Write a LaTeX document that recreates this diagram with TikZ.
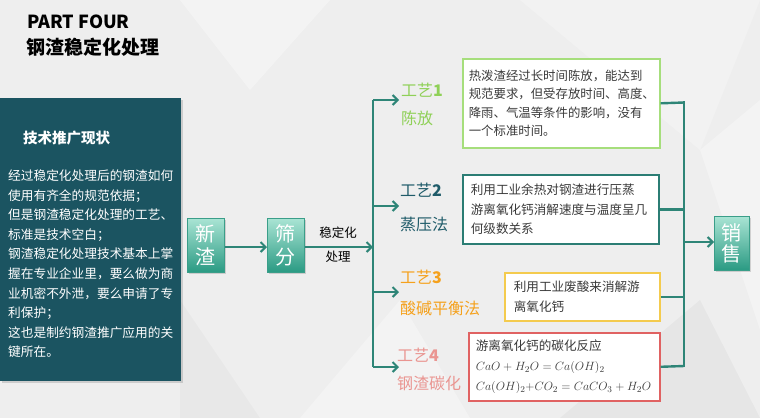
\documentclass[tikz,border=0pt]{standalone}
\usepackage{fontspec}
\setmainfont{Noto Sans CJK SC}
\usetikzlibrary{arrows.meta,shadows}
\definecolor{bgc}{HTML}{EEEEEE}
\definecolor{panelc}{HTML}{1B5461}
\definecolor{linec}{HTML}{2E8577}
\definecolor{gtop}{HTML}{A9E4D4}
\definecolor{gbot}{HTML}{2A9A83}
\definecolor{gbrd}{HTML}{3A9E89}
\definecolor{c1}{HTML}{8FD057}
\definecolor{c2}{HTML}{1F5B69}
\definecolor{c3}{HTML}{F5A11C}
\definecolor{c4}{HTML}{EA9591}
\definecolor{b1}{HTML}{A6DE7C}
\definecolor{b2}{HTML}{2B7D74}
\definecolor{b3}{HTML}{F4CB4E}
\definecolor{b4}{HTML}{E06262}
\definecolor{txt}{HTML}{3A3A3A}
\newcommand{\fsz}[2]{\fontsize{#1}{#2}\selectfont}
\begin{document}
\begin{tikzpicture}[x=1pt,y=-1pt,
  conn/.style={draw=linec, line width=2.4pt},
  arr/.style={conn, -{Straight Barb[length=5pt,width=10pt,line width=2pt]}},
  gbox/.style={shade, top color=gtop, bottom color=gbot, draw=gbrd, line width=0.6pt,
     inner sep=0pt, text=white, align=center,
     drop shadow={shadow xshift=1.2pt, shadow yshift=-1.2pt, opacity=0.3}},
  tbox/.style={draw, fill=white, line width=1.6pt, inner ysep=0pt, align=left,
     text=txt, anchor=north west},
  lbl/.style={anchor=west, inner sep=0pt, align=left}]
\useasboundingbox (0,0) rectangle (760,418);
\fill[bgc] (0,0) rectangle (760,418);
% faint low-poly background
\fill[white, opacity=0.35] (180,0) -- (330,0) -- (250,90) -- cycle;
\fill[white, opacity=0.25] (520,0) -- (760,0) -- (700,150) -- cycle;
\fill[black, opacity=0.03] (560,418) -- (700,300) -- (760,418) -- cycle;
\fill[white, opacity=0.3] (300,418) -- (400,300) -- (470,418) -- cycle;
\fill[black, opacity=0.025] (180,300) -- (260,418) -- (180,418) -- cycle;
\fill[white, opacity=0.3] (700,150) -- (760,100) -- (760,330) -- cycle;

% title
\node[anchor=west, inner sep=0pt, font=\bfseries\fsz{18}{18}] (pf) at (27,22) {PART FOUR};
\node[anchor=west, inner sep=0pt, font=\bfseries\fsz{19}{19}] (tt) at (26,47) {钢渣稳定化处理};

% left panel
\node[anchor=north west, fill=panelc, minimum width=181pt, minimum height=283pt, inner sep=0pt,
  drop shadow={shadow xshift=1.5pt, shadow yshift=-1.5pt, opacity=0.3}] (panel) at (0,98) {};
\node[anchor=west, inner sep=0pt, text=white, font=\bfseries\fsz{14.5}{14.5}] (ptitle) at (23,138) {技术推广现状};
\node[anchor=north west, inner sep=0pt, text=white, align=left, font=\fsz{12.7}{19.6}] (pbody) at (8,169.5)
 {经过稳定化处理后的钢渣如何\\使用有齐全的规范依据；\\但是钢渣稳定化处理的工艺、\\标准是技术空白；\\钢渣稳定化处理技术基本上掌\\握在专业企业里，要么做为商\\业机密不外泄，要么申请了专\\利保护；\\这也是制约钢渣推广应用的关\\键所在。};

% process boxes
\node[gbox, anchor=north west, minimum width=37pt, minimum height=54pt, font=\fsz{20}{23}] (xz) at (187,218) {新\\渣};
\node[gbox, anchor=north west, minimum width=37pt, minimum height=54pt, font=\fsz{20}{23}] (sf) at (267,218) {筛\\分};
\node[gbox, anchor=north west, minimum width=35pt, minimum height=54pt, font=\fsz{20}{21}] (xs) at (714,216) {销\\售};
\node[inner sep=0pt, align=center, font=\fsz{12.5}{24}] (wd) at (338,245) {稳定化\\处理};

% bus coordinates
\coordinate (lb0) at (373,247);
\coordinate (lbt) at (373,100);
\coordinate (lbb) at (373,367);
\coordinate (t1) at (399,100);
\coordinate (t2) at (399,206);
\coordinate (t3) at (399,292);
\coordinate (t4) at (399,367);

% labels
\node[lbl, text=c1, font=\fsz{16}{28}] (l1) at (401,104) {工艺\textbf{1}\\陈放};
\node[lbl, text=c2, font=\fsz{16}{34}] (l2) at (400,207) {工艺\textbf{2}\\蒸压法};
\node[lbl, text=c3, font=\fsz{16}{31}] (l3) at (400,292.5) {工艺\textbf{3}\\酸碱平衡法};
\node[lbl, text=c4, font=\fsz{16}{28}] (l4) at (397,369) {工艺\textbf{4}\\钢渣碳化};

% text boxes
\node[tbox, draw=b1, inner xsep=6pt, text width=185pt, minimum height=89pt, font=\fsz{12.4}{18.5}] (bx1) at (462,58)
 {热泼渣经过长时间陈放，能达到\\规范要求，但受存放时间、高度、\\降雨、气温等条件的影响，没有\\一个标准时间。};
\node[tbox, draw=b2, inner xsep=8pt, text width=180pt, minimum height=69pt, font=\fsz{12.6}{19.5}] (bx2) at (462,174)
 {利用工业余热对钢渣进行压蒸\\游离氧化钙消解速度与温度呈几\\何级数关系};
\node[tbox, draw=b3, inner xsep=9pt, text width=137pt, minimum height=48pt, font=\fsz{12.6}{20}] (bx3) at (504,272)
 {利用工业废酸来消解游\\离氧化钙};
\node[tbox, draw=b4, inner xsep=7pt, text width=177pt, minimum height=68pt, font=\fsz{12.6}{20}] (bx4) at (468,332)
 {游离氧化钙的碳化反应\\\mbox{$CaO+H_2O=Ca(OH)_2$}\\\mbox{$Ca(OH)_2{+}CO_2=CaCO_3+H_2O$}};

% right bus coordinates
\coordinate (rbt) at (684,102.5);
\coordinate (rbb) at (684,366);
\coordinate (rb0) at (684,242);

% connectors
\draw[arr] (xz.east |- 0,247) -- (sf.west |- 0,247);
\draw[arr] (sf.east |- lb0) -- (lb0);
\draw[conn] (lbt) -- (lbb);
\draw[arr] (lbt) -- (t1);
\draw[arr] (lbb |- t2) -- (t2);
\draw[arr] (lbb |- t3) -- (t3);
\draw[arr] (lbb) -- (t4);
\draw[conn] (bx1.east) -- (rbt);
\draw[conn] (bx2.east) -- (bx2.east -| rbt);
\draw[conn] (bx3.east) -- (bx3.east -| rbt);
\draw[conn] (bx4.east) -- (rbb);
\draw[conn] ([yshift=1.2pt]rbt) -- ([yshift=-1.2pt]rbb);
\draw[arr] (rb0) -- (xs.west |- rb0);
\end{tikzpicture}
\end{document}
